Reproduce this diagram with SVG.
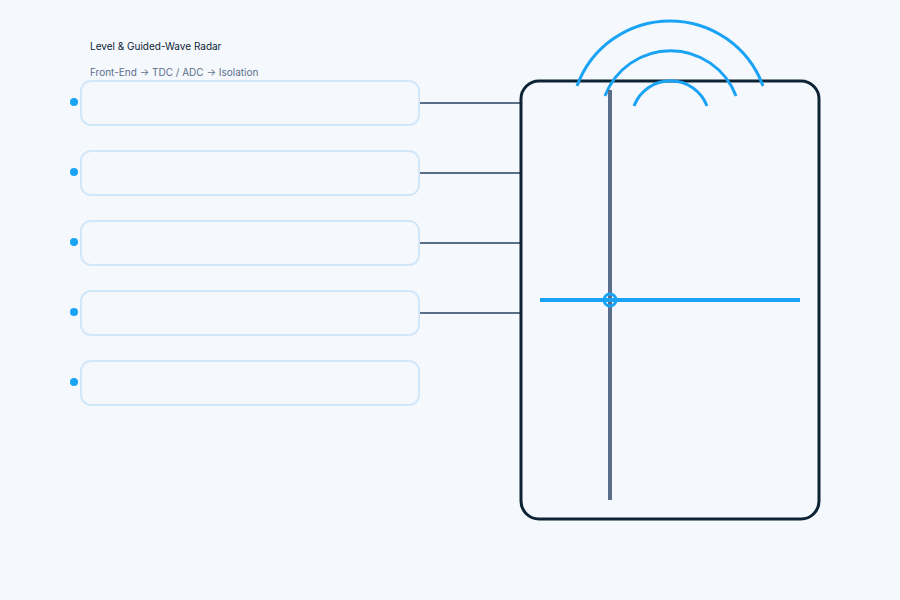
<svg xmlns="http://www.w3.org/2000/svg" width="900" height="600" viewBox="0 0 900 600">
<style>
.card{fill:#f5f9fe;stroke:#d3e7f8;stroke-width:2}
.dot{fill:#1aa3f5}
.conn{stroke:#5a6e8a;stroke-width:2;fill:none}
.wave{stroke:#1aa3f5;stroke-width:3;fill:none}
</style>
<rect width="900" height="600" fill="#f5f9fe"/>
<text x="90" y="50" font-family="Inter, Liberation Sans, sans-serif" font-size="10" fill="#0d2434">Level &amp; Guided-Wave Radar</text>
<text x="90" y="76" font-family="Inter, Liberation Sans, sans-serif" font-size="10" fill="#5a6e8a">Front-End → TDC / ADC → Isolation</text>
<g id="card1"><rect class="card" x="81" y="81" width="338" height="44" rx="10"/><circle class="dot" cx="74" cy="102" r="4"/></g>
<g id="card2"><rect class="card" x="81" y="151" width="338" height="44" rx="10"/><circle class="dot" cx="74" cy="172" r="4"/></g>
<g id="card3"><rect class="card" x="81" y="221" width="338" height="44" rx="10"/><circle class="dot" cx="74" cy="242" r="4"/></g>
<g id="card4"><rect class="card" x="81" y="291" width="338" height="44" rx="10"/><circle class="dot" cx="74" cy="312" r="4"/></g>
<g id="card5"><rect class="card" x="81" y="361" width="338" height="44" rx="10"/><circle class="dot" cx="74" cy="382" r="4"/></g>
<g id="connectors">
<path class="conn" d="M420 103H521M420 173H521M420 243H521M420 313H521"/>
</g>
<g id="tank">
<rect x="521" y="81" width="298" height="438" rx="18" fill="none" stroke="#0d2434" stroke-width="3"/>
<path class="wave" d="M577 86A99 99 0 0 1 763 86"/>
<path class="wave" d="M605 96A70 70 0 0 1 736 96"/>
<path class="wave" d="M634 106A39 39 0 0 1 707 106"/>
<line x1="610" y1="90" x2="610" y2="500" stroke="#5a6e8a" stroke-width="4"/>
<line x1="540" y1="300" x2="800" y2="300" stroke="#1aa3f5" stroke-width="4"/>
<circle cx="610" cy="300" r="6" fill="none" stroke="#1aa3f5" stroke-width="3"/>
</g>
</svg>
